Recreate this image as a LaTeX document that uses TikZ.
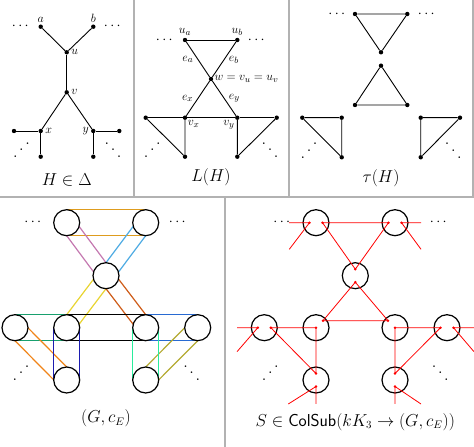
\documentclass[tikz,border=0pt]{standalone}
\usepackage{amsmath}
\usepackage{amssymb}
\usetikzlibrary{backgrounds}

\definecolor{cgold}{RGB}{222,156,30}
\definecolor{cpink}{RGB}{196,120,176}
\definecolor{csky}{RGB}{76,170,226}
\definecolor{cyellow}{RGB}{232,212,50}
\definecolor{crust}{RGB}{206,92,24}
\definecolor{cgreen}{RGB}{24,160,110}
\definecolor{cblue}{RGB}{40,106,210}
\definecolor{corange}{RGB}{240,132,24}
\definecolor{cnavy}{RGB}{28,28,176}
\definecolor{caqua}{RGB}{40,236,156}
\definecolor{colive}{RGB}{180,170,50}

% diagonal dots, built from three full stops
\newcommand{\updots}{\hbox{.\kern1.1pt\raise6.7pt\hbox{.}\kern1.1pt\raise13.4pt\hbox{.}}}
\newcommand{\dndots}{\hbox{\raise13.4pt\hbox{.}\kern1.1pt\raise6.7pt\hbox{.}\kern1.1pt.}}

\tikzset{
	vert/.style={circle, fill=black, inner sep=0pt, minimum size=4.4pt},
	blob/.style={circle, draw=black, line width=1.2pt, fill=white, minimum size=26pt, inner sep=0pt, outer sep=0pt},
	ring/.style={circle, draw=black, line width=1.2pt, minimum size=26pt, inner sep=0pt, outer sep=0pt},
	edge/.style={line width=0.9pt},
	cedge/.style={line width=1.2pt},
	redge/.style={red, line width=0.8pt},
	frame/.style={black!30, line width=1.6pt},
	capt/.style={font=\fontsize{16}{19}\selectfont},
	lab/.style={font=\fontsize{13}{15}\selectfont},
	hdots/.style={font=\fontsize{15}{15}\selectfont, inner sep=0pt},
	ddots/.style={font=\fontsize{20}{20}\selectfont, inner sep=0pt}
}

\begin{document}
\begin{tikzpicture}[x=1pt, y=1pt, every label/.append style={lab, inner sep=2pt}]
	\useasboundingbox (0,0) rectangle (474,447);

	% panel frames
	\draw[frame] (134,447) -- (134,250);
	\draw[frame] (289,447) -- (289,250);
	\draw[frame] (473,447) -- (473,250);
	\draw[frame] (0,250) -- (474,250);
	\draw[frame] (225,250) -- (225,0);

	% H
	\node[vert, label={above:$a$}] (a) at (40.7,420.3) {};
	\node[vert, label={above:$b$}] (b) at (93.3,420.3) {};
	\node[vert, label={right:$u$}] (u) at (66.7,394.7) {};
	\node[vert, label={right:$v$}] (v) at (66.7,354.7) {};
	\node[vert, label={right:$x$}] (x) at (40.7,316) {};
	\node[vert, label={left:$y$}] (y) at (93.3,316) {};
	\node[vert] (xl) at (14,316) {};
	\node[vert] (xb) at (40.7,290.3) {};
	\node[vert] (yr) at (119.3,316) {};
	\node[vert] (yb) at (93.3,290.3) {};
	\draw[edge] (a) -- (u) -- (b);
	\draw[edge] (u) -- (v);
	\draw[edge] (x) -- (v) -- (y);
	\draw[edge] (xl) -- (x) -- (xb);
	\draw[edge] (yr) -- (y) -- (yb);
	\node[hdots] (hl) at (21.5,420.3) {$\cdots$};
	\node[hdots] (hr) at (113.5,420.3) {$\cdots$};
	\node[ddots] (hdl) at (21.5,297) {\updots};
	\node[ddots] (hdr) at (113,297) {\dndots};
	\node[capt] (hcap) at (66.7,267) {$H \in \Delta$};

	% L(H)
	\node[vert, label={above:$u_a$}] (ua) at (185,407) {};
	\node[vert, label={above:$u_b$}] (ub) at (237.3,407) {};
	\node[vert, label={[inner sep=1pt]right:$w = v_u = u_v$}] (w) at (211,368) {};
	\node[vert, label={[inner sep=1pt]below right:$v_x$}] (vx) at (185,329.3) {};
	\node[vert, label={[inner sep=1pt]below left:$v_y$}] (vy) at (237.3,329.3) {};
	\node[vert] (ll) at (145.7,329.3) {};
	\node[vert] (lr) at (276.7,329.3) {};
	\node[vert] (lbx) at (185,290.3) {};
	\node[vert] (lby) at (237.3,290.3) {};
	\draw[edge] (ua) -- (ub);
	\draw[edge] (ua) -- node[lab, left=1pt] {$e_a$} (w);
	\draw[edge] (ub) -- node[lab, right=1pt] {$e_b$} (w);
	\draw[edge] (w) -- node[lab, left=1pt] {$e_x$} (vx);
	\draw[edge] (w) -- node[lab, right=1pt] {$e_y$} (vy);
	\draw[edge] (ll) -- (vx) -- (vy) -- (lr);
	\draw[edge] (ll) -- (lbx) -- (vx);
	\draw[edge] (lr) -- (lby) -- (vy);
	\node[hdots] (ldl) at (165.5,407) {$\cdots$};
	\node[hdots] (ldr) at (257.5,407) {$\cdots$};
	\node[ddots] (lddl) at (152.3,297) {\updots};
	\node[ddots] (lddr) at (270,297) {\dndots};
	\node[capt] (lcap) at (211,270.3) {$L(H)$};

	% tau(H)
	\node[vert] (ta1) at (355,433) {};
	\node[vert] (ta2) at (407.3,433) {};
	\node[vert] (ta3) at (381,394.7) {};
	\node[vert] (tb1) at (381,381.3) {};
	\node[vert] (tb2) at (355,342) {};
	\node[vert] (tb3) at (407.3,342) {};
	\node[vert] (tc1) at (302.3,329.3) {};
	\node[vert] (tc2) at (341.7,329.3) {};
	\node[vert] (tc3) at (341.7,289.7) {};
	\node[vert] (td1) at (420.7,329.3) {};
	\node[vert] (td2) at (460,329.3) {};
	\node[vert] (td3) at (420.7,289.7) {};
	\foreach \t in {a, b, c, d}
		\draw[edge] (t\t1) -- (t\t2) -- (t\t3) -- (t\t1);
	\node[hdots] (tdl) at (338,433) {$\cdots$};
	\node[hdots] (tdr) at (427.5,433) {$\cdots$};
	\node[ddots] (tddl) at (309,296.3) {\updots};
	\node[ddots] (tddr) at (453.3,296.3) {\dndots};
	\node[capt] (tcap) at (381,268.7) {$\tau(H)$};

	% (G, c_E)
	\node[blob] (gtl) at (66.7,224.3) {};
	\node[blob] (gtr) at (145.7,224.3) {};
	\node[blob] (gmid) at (106,171.3) {};
	\node[blob] (gll) at (15,119.3) {};
	\node[blob] (gx) at (66.7,119.3) {};
	\node[blob] (gy) at (145.7,119.3) {};
	\node[blob] (grl) at (197.7,119.3) {};
	\node[blob] (gbx) at (66.7,67) {};
	\node[blob] (gby) at (145.7,67) {};
	\begin{scope}[on background layer]
		\foreach \p/\q/\c in {gtl/gtr/cgold, gtl/gmid/cpink, gtr/gmid/csky, gmid/gx/cyellow,
				gmid/gy/crust, gx/gy/black, gll/gx/cgreen, gy/grl/cblue, gll/gbx/corange, grl/gby/colive}
		{
			\draw[cedge, \c] (\p.north) -- (\q.north);
			\draw[cedge, \c] (\p.south) -- (\q.south);
		}
		\foreach \p/\q/\c in {gx/gbx/cnavy, gy/gby/caqua}
		{
			\draw[cedge, \c] (\p.west) -- (\q.west);
			\draw[cedge, \c] (\p.east) -- (\q.east);
		}
	\end{scope}
	\node[hdots] (gdl) at (34,224.3) {$\cdots$};
	\node[hdots] (gdr) at (178.5,224.3) {$\cdots$};
	\node[ddots] (gddl) at (21,74) {\updots};
	\node[ddots] (gddr) at (191.7,74) {\dndots};
	\node[capt] (gcap) at (106,28.7) {$(G, c_E)$};

	% S
	\node[ring] (stl) at (316,224.3) {};
	\node[ring] (str) at (395,224.3) {};
	\node[ring] (smid) at (355.3,171.3) {};
	\node[ring] (sll) at (264.3,119.3) {};
	\node[ring] (sx) at (316,119.3) {};
	\node[ring] (sy) at (395,119.3) {};
	\node[ring] (srl) at (447,119.3) {};
	\node[ring] (sbx) at (316,67) {};
	\node[ring] (sby) at (395,67) {};
	\coordinate (sa1) at ([xshift=-6.5pt]stl.center);
	\coordinate (sa2) at ([xshift=6.5pt]stl.center);
	\coordinate (sb1) at ([xshift=-6.5pt]str.center);
	\coordinate (sb2) at ([xshift=6.5pt]str.center);
	\coordinate (sw1) at ([yshift=6.5pt]smid.center);
	\coordinate (sw2) at ([yshift=-6.5pt]smid.center);
	\coordinate (sx1) at ([shift={(7pt,7pt)}]sx.center);
	\coordinate (sx2) at (sx.center);
	\coordinate (sy1) at ([shift={(-7pt,7pt)}]sy.center);
	\coordinate (sy2) at (sy.center);
	\coordinate (sl1) at ([xshift=-6.5pt]sll.center);
	\coordinate (sl2) at ([xshift=6.5pt]sll.center);
	\coordinate (sr1) at ([xshift=-6.5pt]srl.center);
	\coordinate (sr2) at ([xshift=6.5pt]srl.center);
	\coordinate (sbx1) at ([yshift=6.5pt]sbx.center);
	\coordinate (sbx2) at ([yshift=-6.5pt]sbx.center);
	\coordinate (sby1) at ([yshift=6.5pt]sby.center);
	\coordinate (sby2) at ([yshift=-6.5pt]sby.center);
	% loose ends
	\coordinate (fa1) at (289,224.3);
	\coordinate (fa2) at (289.3,197.7);
	\coordinate (fb1) at (421,224.3);
	\coordinate (fb2) at (421,197.7);
	\coordinate (fl1) at (237,119.3);
	\coordinate (fl2) at (237,95.3);
	\coordinate (fr1) at (474,119.3);
	\coordinate (fr2) at (474,95.3);
	\coordinate (fx1) at (316,43);
	\coordinate (fx2) at (288.3,43);
	\coordinate (fy1) at (395,43);
	\coordinate (fy2) at (421,43);
	\draw[redge] (sa2) -- (sb1) -- (sw1) -- cycle;
	\draw[redge] (sw2) -- (sx1) -- (sy1) -- cycle;
	\draw[redge] (sl2) -- (sx2) -- (sbx1) -- cycle;
	\draw[redge] (sy2) -- (sr1) -- (sby1) -- cycle;
	\draw[redge] (fa1) -- (sa1) -- (fa2);
	\draw[redge] (fb1) -- (sb2) -- (fb2);
	\draw[redge] (fl1) -- (sl1) -- (fl2);
	\draw[redge] (fr1) -- (sr2) -- (fr2);
	\draw[redge] (fx1) -- (sbx2) -- (fx2);
	\draw[redge] (fy1) -- (sby2) -- (fy2);
	\foreach \s in {sa1, sa2, sb1, sb2, sw1, sw2, sx1, sx2, sy1, sy2, sl1, sl2, sr1, sr2, sbx1, sbx2, sby1, sby2}
		\fill[red] (\s) circle (1.4);
	\node[hdots] (sdl) at (283,224.3) {$\cdots$};
	\node[hdots] (sdr) at (439.5,224.3) {$\cdots$};
	\node[ddots] (sddl) at (270.3,74) {\updots};
	\node[ddots] (sddr) at (440.3,74) {\dndots};
	\node[capt] (scap) at (355.3,25.3) {$S \in \mathsf{ColSub}(kK_3 \to (G, c_E))$};
\end{tikzpicture}
\end{document}
